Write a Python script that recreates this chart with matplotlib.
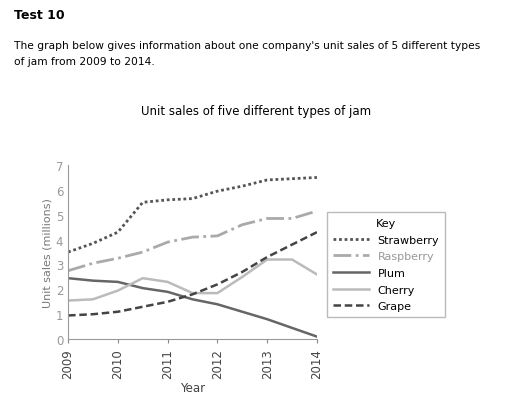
import matplotlib.pyplot as plt

years = [2009, 2009.5, 2010, 2010.5, 2011, 2011.5, 2012, 2012.5, 2013, 2013.5, 2014]
strawberry = [3.5, 3.85, 4.3, 5.5, 5.6, 5.65, 5.95, 6.15, 6.4, 6.45, 6.5]
raspberry = [2.75, 3.05, 3.25, 3.5, 3.9, 4.1, 4.15, 4.6, 4.85, 4.85, 5.15]
plum = [2.45, 2.35, 2.3, 2.05, 1.9, 1.6, 1.4, 1.1, 0.8, 0.45, 0.1]
cherry = [1.55, 1.6, 1.95, 2.45, 2.3, 1.85, 1.85, 2.5, 3.2, 3.2, 2.6]
grape = [0.95, 1.0, 1.1, 1.3, 1.5, 1.8, 2.2, 2.7, 3.3, 3.8, 4.3]
tick_years = [2009, 2010, 2011, 2012, 2013, 2014]

fig = plt.figure(figsize=(5.12, 4.02), dpi=100)
fig.patch.set_facecolor('white')

fig.text(0.027, 0.962, 'Test 10', fontsize=9, fontweight='bold', va='center')
fig.text(0.027, 0.885, "The graph below gives information about one company's unit sales of 5 different types",
         fontsize=7.7, va='center')
fig.text(0.027, 0.845, 'of jam from 2009 to 2014.', fontsize=7.7, va='center')

ax = fig.add_axes([0.133, 0.154, 0.486, 0.433])
ax.set_facecolor('none')
ax.plot(years, strawberry, color='#555555', lw=2, ls=(0, (1, 1)), label='Strawberry')
ax.plot(years, raspberry, color='#aaaaaa', lw=2, ls='-.', label='Raspberry')
ax.plot(years, plum, color='#666666', lw=1.8, label='Plum')
ax.plot(years, cherry, color='#bbbbbb', lw=1.8, label='Cherry')
ax.plot(years, grape, color='#444444', lw=1.8, ls=(0, (3, 1.5)), label='Grape')

ax.set_xlim(2009, 2014)
ax.set_ylim(0, 7)
ax.set_xticks(tick_years)
ax.set_xticklabels([str(y) for y in tick_years], rotation=90, fontsize=8.5, color='#444444')
ax.set_yticks(range(8))
ax.tick_params(axis='y', labelsize=8.5, labelcolor='#999999', length=0)
ax.tick_params(axis='x', length=3, color='#888888')
for s in ['top', 'right']:
    ax.spines[s].set_visible(False)
for s in ['left', 'bottom']:
    ax.spines[s].set_color('#999999')
ax.set_xlabel('Year', fontsize=8.5, color='#444444', labelpad=2)
ax.set_ylabel('Unit sales (millions)', fontsize=8, color='#777777', labelpad=2)
fig.text(0.5, 0.722, 'Unit sales of five different types of jam', fontsize=8.5, ha='center', va='center')

leg = ax.legend(loc='upper left', bbox_to_anchor=(1.02, 0.76), title='Key', fontsize=8,
                title_fontsize=8, frameon=True, fancybox=False, handlelength=3.2,
                labelspacing=0.6, borderpad=0.5)
leg.get_frame().set_edgecolor('#aaaaaa')
leg.get_frame().set_facecolor('none')
leg.texts[1].set_color('#999999')

fig.savefig('out.png', dpi=100)
